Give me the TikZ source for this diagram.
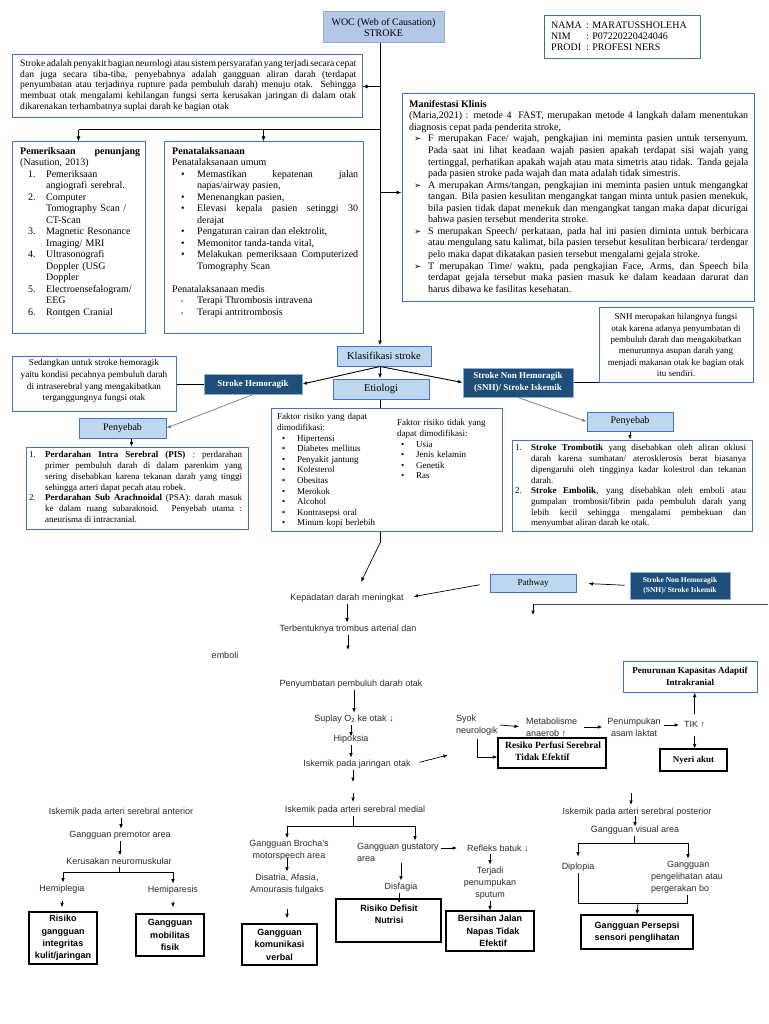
\documentclass[tikz,border=0pt]{standalone}
\usepackage{fontspec}
\setmainfont{Liberation Serif}[WordSpace={1,1.5,1.6}]
\setsansfont{Liberation Sans}
\newfontfamily\symfont{DejaVu Sans}
\usetikzlibrary{arrows.meta,fit,calc}
\definecolor{lblue}{HTML}{BDD7EE}
\definecolor{wocfill}{HTML}{B4C7E7}
\definecolor{wocbord}{HTML}{8FAADC}
\definecolor{bord}{HTML}{4472C4}
\definecolor{dblue}{HTML}{1F4E79}
\definecolor{nbord}{HTML}{41719C}
\definecolor{ptxt}{HTML}{2B2B2B}
\newcommand{\hitem}[3]{\hangindent=#1\hangafter=0\noindent\llap{\makebox[#1][l]{#2}}#3\par}
\newcommand{\arrb}{{\symfont\fontsize{8.5}{8.5}\selectfont ➢}}
\newcommand{\fillsp}{\hskip 0pt plus 1fill\relax}
\tikzset{
  bx/.style={draw=bord, line width=1pt, inner sep=0pt},
  lbx/.style={draw=bord, fill=lblue, line width=1pt, inner sep=0pt, align=center},
  dbx/.style={draw=bord!60!white, fill=dblue, text=white, line width=1pt, inner sep=0pt, align=center, font=\bfseries\fontsize{9}{12}\selectfont},
  kbx/.style={draw=black, line width=1.1pt, inner sep=0pt, align=center, font=\sffamily\bfseries\fontsize{9}{12.4}\selectfont},
  txt/.style={inner sep=0pt, anchor=north west, execute at begin node={\setlength{\parindent}{0pt}\hyphenpenalty=10000\relax}},
  ptx/.style={inner sep=2pt, text=ptxt, font=\sffamily\fontsize{9}{12}\selectfont},
  ar/.style={-{Latex[length=4.5pt,width=3.6pt]}, line width=0.7pt},
  tar/.style={-{Latex[length=5pt,width=4pt]}, line width=1pt},
  ln/.style={line width=1pt},
}
\begin{document}
\begin{tikzpicture}[x=1pt,y=-1pt]
\useasboundingbox (0,0) rectangle (768,1024);
\fill[white] (0,0) rectangle (768,1024);

% ---------------- header ----------------
\node[draw=wocbord, fill=wocfill, line width=1pt, minimum width=121pt, minimum height=31pt, inner sep=0pt, align=center, font=\fontsize{10}{11}\selectfont] (woc) at (383.5,27.5) {WOC (Web of Causation)\\STROKE};
\node[draw=nbord, line width=1pt, minimum width=156pt, minimum height=43pt, inner sep=0pt] (nm) at (622,37.5) {};
\node[txt, font=\fontsize{10}{11}\selectfont, align=left] (nmtxt) at (551,22) {\makebox[35pt][l]{NAMA}: MARATUSSHOLEHA\\\makebox[35pt][l]{NIM}: P07220220424046\\\makebox[35pt][l]{PRODI}: PROFESI NERS};

% definition
\node[bx, fit={(12,55) (362,118)}] (def) {};
\node[txt, text width=336pt, align=justify, font=\fontsize{9.6}{10.9}\selectfont] (deftxt) at (20,59.2) {Stroke adalah penyakit bagian neurologi atau sistem persyarafan yang terjadi secara cepat\linebreak
dan juga secara tiba-tiba, penyebabnya adalah gangguan aliran darah (terdapat\linebreak
penyumbatan atau terjadinya rupture pada pembuluh darah) menuju otak. Sehingga\linebreak
membuat otak mengalami kehilangan fungsi serta kerusakan jaringan di dalam otak\linebreak
dikarenakan terhambatnya suplai darah ke bagian otak};

% pemeriksaan
\node[bx, fit={(12,142) (145,333)}] (pem) {};
\node[txt, text width=120pt, align=left, font=\fontsize{10}{11.5}\selectfont] (pemtxt) at (20,147) {%
\textbf{Pemeriksaan}\fillsp\textbf{penunjang}\par
(Nasution, 2013)\par
\hitem{26pt}{\hspace{8pt}1.}{Pemeriksaan\newline angiografi serebral.}
\hitem{26pt}{\hspace{8pt}2.}{Computer\newline Tomography Scan /\newline CT-Scan}
\hitem{26pt}{\hspace{8pt}3.}{Magnetic Resonance\newline Imaging/ MRI}
\hitem{26pt}{\hspace{8pt}4.}{Ultrasonografi\newline Doppler (USG\newline Doppler}
\hitem{26pt}{\hspace{8pt}5.}{Electroensefalogram/\newline EEG}
\hitem{26pt}{\hspace{8pt}6.}{Rontgen Cranial}};

% penatalaksanaan
\node[bx, fit={(164,142) (363,333)}] (pen) {};
\node[txt, text width=186pt, align=justify, font=\fontsize{10}{11.5}\selectfont] (pentxt) at (172,147) {%
\textbf{Penatalaksanaan}\par
Penatalaksanaan umum\par
\hitem{25pt}{\hspace{9pt}\textbullet}{Memastikan kepatenan jalan\linebreak napas/airway pasien,}
\hitem{25pt}{\hspace{9pt}\textbullet}{Menenangkan pasien,}
\hitem{25pt}{\hspace{9pt}\textbullet}{Elevasi kepala pasien setinggi 30\linebreak derajat}
\hitem{25pt}{\hspace{9pt}\textbullet}{Pengaturan cairan dan elektrolit,}
\hitem{25pt}{\hspace{9pt}\textbullet}{Memonitor tanda-tanda vital,}
\hitem{25pt}{\hspace{9pt}\textbullet}{Melakukan pemeriksaan Computerized\linebreak Tomography Scan}
\vskip 11.5pt
\noindent Penatalaksanaan medis\par
\hitem{25pt}{\hspace{9pt}{\fontsize{6}{6}\selectfont\textbullet}}{Terapi Thrombosis intravena}
\hitem{25pt}{\hspace{9pt}{\fontsize{6}{6}\selectfont\textbullet}}{Terapi antritrombosis}};

% manifestasi
\node[bx, fit={(402,94) (754,301)}] (mk) {};
\node[txt, text width=339pt, align=justify, font=\fontsize{10}{11.56}\selectfont] (mktxt) at (409,100) {%
\textbf{Manifestasi Klinis}\par
(Maria,2021) : metode 4\ \ FAST, merupakan metode 4 langkah dalam menentukan\linebreak
diagnosis cepat pada penderita stroke,\par
\hitem{19pt}{\hspace{5pt}\arrb}{F merupakan Face/ wajah, pengkajian ini meminta pasien untuk tersenyum.\linebreak
Pada saat ini lihat keadaan wajah pasien apakah terdapat sisi wajah yang\linebreak
tertinggal, perhatikan apakah wajah atau mata simetris atau tidak. Tanda gejala\linebreak
pada pasien stroke pada wajah dan mata adalah tidak simestris.}
\hitem{19pt}{\hspace{5pt}\arrb}{A merupakan Arms/tangan, pengkajian ini meminta pasien untuk mengangkat\linebreak
tangan. Bila pasien kesulitan mengangkat tangan minta untuk pasien menekuk,\linebreak
bila pasien tidak dapat menekuk dan mengangkat tangan maka dapat dicurigai\linebreak
bahwa pasien tersebut menderita stroke.}
\hitem{19pt}{\hspace{5pt}\arrb}{S merupakan Speech/ perkataan, pada hal ini pasien diminta untuk berbicara\linebreak
atau mengulang satu kalimat, bila pasien tersebut kesulitan berbicara/ terdengar\linebreak
pelo maka dapat dikatakan pasien tersebut mengalami gejala stroke.}
\hitem{19pt}{\hspace{5pt}\arrb}{T merupakan Time/ waktu, pada pengkajian Face, Arms, dan Speech bila\linebreak
terdapat gejala tersebut maka pasien masuk ke dalam keadaan darurat dan\linebreak
harus dibawa ke fasilitas kesehatan.}};

% ---------------- klasifikasi ----------------
\node[lbx, minimum width=94pt, minimum height=20pt, font=\fontsize{10.5}{12}\selectfont] (klas) at (384,356) {Klasifikasi stroke};
\node[lbx, minimum width=96pt, minimum height=20pt, font=\fontsize{10.5}{12}\selectfont] (etio) at (381,389) {Etiologi};
\node[dbx, minimum width=98pt, minimum height=20pt] (hem) at (253,384) {Stroke Hemoragik};
\node[dbx, minimum width=110pt, minimum height=29pt] (snh) at (518,382.5) {Stroke Non Hemoragik\\(SNH)/ Stroke Iskemik};

\node[bx, fit={(12,356) (176,411)}] (hemd) {};
\node[inner sep=0pt, align=center, font=\fontsize{9.2}{11.7}\selectfont] (hemdtxt) at (94,381) {Sedangkan untuk stroke hemoragik\\yaitu kondisi pecahnya pembuluh darah\\di intraserebral yang mengakibatkan\\terganggungnya fungsi otak};

\node[bx, fit={(599,307) (753,382)}] (snhd) {};
\node[inner sep=0pt, align=center, font=\fontsize{9}{11.4}\selectfont] (snhdtxt) at (676,345) {SNH merupakan hilangnya fungsi\\otak karena adanya penyumbatan di\\pembuluh darah dan mengakibatkan\\menurunnya asupan darah yang\\menjadi makanan otak ke bagian otak\\itu sendiri.};

\node[lbx, minimum width=87pt, minimum height=20pt, font=\fontsize{10}{12}\selectfont] (pyl) at (122.5,428) {Penyebab};
\node[lbx, minimum width=86pt, minimum height=19pt, font=\fontsize{10}{12}\selectfont] (pyr) at (630,421.5) {Penyebab};

\node[bx, fit={(26,447) (248,529)}] (pylbox) {};
\node[txt, text width=213pt, align=justify, font=\fontsize{9}{10.7}\selectfont] (pyltxt) at (29,451.5) {%
\hitem{16pt}{1.}{\textbf{Perdarahan Intra Serebral (PIS)} : perdarahan\linebreak primer pembuluh darah di dalam parenkim yang\linebreak sering disebabkan karena tekanan darah yang tinggi\linebreak sehingga arteri dapat pecah atau robek.}
\hitem{16pt}{2.}{\textbf{Perdarahan Sub Arachnoidal} (PSA): darah masuk\linebreak ke dalam ruang subaraknoid. Penyebab utama :\linebreak aneurisma di intracranial.}};

\node[bx, fit={(271,408) (502,531)}] (etiobox) {};
\node[txt, text width=115pt, align=left, font=\fontsize{9}{10.6}\selectfont] (etl) at (277,413.5) {%
Faktor risiko yang dapat\\dimodifikasi:\par
\hitem{20pt}{\hspace{5pt}\textbullet}{Hipertensi}
\hitem{20pt}{\hspace{5pt}\textbullet}{Diabetes mellitus}
\hitem{20pt}{\hspace{5pt}\textbullet}{Penyakit jantung}
\hitem{20pt}{\hspace{5pt}\textbullet}{Kolesterol}
\hitem{20pt}{\hspace{5pt}\textbullet}{Obesitas}
\hitem{20pt}{\hspace{5pt}\textbullet}{Merokok}
\hitem{20pt}{\hspace{5pt}\textbullet}{Alcohol}
\hitem{20pt}{\hspace{5pt}\textbullet}{Kontrasepsi oral}
\hitem{20pt}{\hspace{5pt}\textbullet}{Minum kopi berlebih}};
\node[txt, text width=100pt, align=left, font=\fontsize{9}{10.6}\selectfont] (etr) at (397,419.5) {%
Faktor risiko tidak yang\\dapat dimodifikasi:\par
\hitem{19pt}{\hspace{4pt}\textbullet}{Usia}
\hitem{19pt}{\hspace{4pt}\textbullet}{Jenis kelamin}
\hitem{19pt}{\hspace{4pt}\textbullet}{Genetik}
\hitem{19pt}{\hspace{4pt}\textbullet}{Ras}};

\node[bx, fit={(512,440) (752,531)}] (pyrbox) {};
\node[txt, text width=231pt, align=justify, font=\fontsize{9}{10.7}\selectfont] (pyrtxt) at (515,444.5) {%
\hitem{16pt}{1.}{\textbf{Stroke Trombotik} yang disebabkan oleh aliran oklusi\linebreak darah karena sumbatan/ aterosklerosis berat biasanya\linebreak dipengaruhi oleh tingginya kadar kolestrol dan tekanan\linebreak darah.}
\hitem{16pt}{2.}{\textbf{Stroke Embolik}, yang disebabkan oleh emboli atau\linebreak gumpalan trombosit/fibrin pada pembuluh darah yang\linebreak lebih kecil sehingga mengalami pembekuan dan\linebreak menyumbat aliran darah ke otak.}};

% ---------------- pathway ----------------
\node[lbx, minimum width=86pt, minimum height=18pt, font=\fontsize{9}{11}\selectfont] (pw) at (533,583) {Pathway};
\node[dbx, minimum width=100pt, minimum height=27pt, font=\bfseries\fontsize{7.5}{10}\selectfont] (snh2) at (680,585.5) {Stroke Non Hemoragik\\(SNH)/ Stroke Iskemik};

\node[ptx] (kep) at (347,598) {Kepadatan darah meningkat};
\node[ptx] (ter) at (348,629) {Terbentuknya trombus arterial dan};
\node[ptx] (emb) at (225,655) {emboli};
\node[ptx] (peny) at (351,684) {Penyumbatan pembuluh darah otak};
\node[ptx] (sup) at (354,719) {Suplay O\textsubscript{2} ke otak ↓};
\node[ptx] (hip) at (351,739) {Hipoksia};
\node[ptx] (isk) at (357,764) {Iskemik pada jaringan otak};

\node[ptx, align=left, anchor=west] (syok) at (454,725) {Syok\\neurologik};
\node[ptx, align=left, anchor=west] (met) at (524,727) {Metabolisme\\anaerob ↑};
\node[ptx, align=center] (pen2) at (634,727) {Penumpukan\\asam laktat};
\node[ptx, anchor=west] (tik) at (682,725) {TIK ↑};

\node[draw=bord, line width=1pt, minimum width=134pt, minimum height=31pt, inner sep=0pt, align=center, font=\bfseries\fontsize{9}{11.5}\selectfont] (pk) at (690,676.5) {Penurunan Kapasitas Adaptif\\Intrakranial};
\node[kbx, minimum width=67pt, minimum height=22pt, font=\bfseries\fontsize{9}{11}\selectfont] (ny) at (693.5,760) {Nyeri akut};
\node[kbx, minimum width=108pt, minimum height=30pt] (rp) at (552,753) {};
\node[txt, font=\bfseries\fontsize{9.5}{12}\selectfont, align=left] (rptxt) at (505,741.5) {Resiko Perfusi Serebral\\\hspace*{10pt}Tidak Efektif};

% ---------------- anterior ----------------
\node[ptx] (ant) at (121,812) {Iskemik pada arteri serebral anterior};
\node[ptx] (gpa) at (120,835) {Gangguan premotor area};
\node[ptx] (kn) at (119,861) {Kerusakan neuromuskular};
\node[ptx] (hpl) at (62,889) {Hemiplegia};
\node[ptx] (hps) at (173,890) {Hemiparesis};
\node[kbx, minimum width=68pt, minimum height=52pt] (rg) at (63,938) {Risiko\\gangguan\\integritas\\kulit/jaringan};
\node[kbx, minimum width=68pt, minimum height=42pt] (mob) at (170,935) {Gangguan\\mobilitas\\fisik};

% ---------------- medial ----------------
\node[ptx] (med) at (355,810) {Iskemik pada arteri serebral medial};
\node[ptx, align=center] (bro) at (289,850.5) {Gangguan Brocha's\\motorspeech area};
\node[ptx, align=center] (dis) at (287,884) {Disatria, Afasia,\\Amourasis fulgaks};
\node[kbx, minimum width=75pt, minimum height=41pt] (kom) at (279.5,944.5) {Gangguan\\komunikasi\\verbal};
\node[ptx, align=left, anchor=west] (gus) at (355,852) {Gangguan gustatory\\area};
\node[ptx, anchor=west] (rb) at (465,848) {Refleks batuk ↓};
\node[ptx] (disf) at (401,887) {Disfagia};
\node[kbx, minimum width=105pt, minimum height=43pt] (dn) at (388.5,920.5) {};
\node[inner sep=0pt, align=center, font=\sffamily\bfseries\fontsize{9}{12}\selectfont] (dntxt) at (389,914) {Risiko Defisit\\Nutrisi};
\node[ptx, align=center] (sp) at (490,883) {Terjadi\\penumpukan\\sputum};
\node[kbx, minimum width=88pt, minimum height=40pt] (bj) at (490,931) {Bersihan Jalan\\\hspace*{6pt}Napas Tidak\\\hspace*{6pt}Efektif};

% ---------------- posterior ----------------
\node[ptx] (pos) at (637,812) {Iskemik pada arteri serebral posterior};
\node[ptx] (gva) at (635,830) {Gangguan visual area};
\node[ptx] (dip) at (578,867) {Diplopia};
\node[ptx, align=left] (gp) at (687,877) {\hspace*{16pt}Gangguan\\pengelihatan atau\\pergerakan bo};
\node[kbx, minimum width=112pt, minimum height=34pt] (gps) at (637,932) {Gangguan Persepsi\\sensori penglihatan};

% ================= connectors =================
\coordinate (sx) at (380,0);
\coordinate (br) at (380,130);
\draw[ln] (woc.south -| sx) -- (br);
\draw[tar] (br) -- (klas.north -| sx);
\draw[tar] (sx |- def.east) -- (def.east);
\draw[ln] (br) -- (br -| pem.north);
\draw[tar] (br -| pem.north) -- (pem.north);
\draw[tar] (br -| pen.north) -- (pen.north);
\coordinate (mkin) at ([yshift=5pt]mk.west);
\draw[tar] (sx |- mkin) -- (mkin);

\draw[tar] (klas.south -| sx) -- (etio.north -| sx);
\draw[ar, line width=0.9pt] (klas.south -| sx) -- (hem.east);
\draw[ar, line width=0.9pt] (klas.south -| sx) -- (snh.west);
\draw[ln] (hemd.east |- hem.west) -- (hem.west);
\draw[ln] (snh.east) -- (snh.east -| snhd.west);
\draw[ar, draw=gray, fill=gray] (hem.south) -- (pyl.east);
\coordinate (pyla) at ([xshift=9pt]pyl.south);
\draw[ar] (pyla) -- (pyla |- pylbox.north);
\draw[ar, draw=gray, fill=gray] (snh.south) -- (pyr.west);
\draw[ar] (pyr.south) -- (pyr.south |- pyrbox.north);
\draw[ln] (etio.south -| sx) -- (etiobox.north -| sx);

\coordinate (e1) at (380,543);
\coordinate (e2) at (361,582);
\draw[line width=0.7pt] (etiobox.south -| sx) -- (e1);
\draw[ar] (e1) -- (e2);
\draw[ar, shorten <=10pt, shorten >=8pt] (pw.west) -- (kep.east);
\draw[ar, shorten <=5pt, shorten >=12pt] (snh2.west) -- (pw.east);
\coordinate (s1) at (768,604);
\coordinate (s2) at (533,604);
\coordinate (s3) at (533,615);
\draw[line width=0.7pt, black!70] (s1) -- (s2);
\draw[ar] (s2) -- (s3);

\draw[ar] (kep.south) -- (kep.south |- ter.north);
\coordinate (t2) at (348,650);
\draw[ar] (ter.south) -- (t2);
\draw[ar] (peny.south -| sup.north) -- (sup.north);
\draw[ar, shorten >=-4pt] (hip.north |- sup.south) -- (hip.north);
\draw[ar] (hip.south) -- (hip.south |- isk.north);
\coordinate (jd) at (353,782);
\draw[ar] (isk.south -| jd) -- (jd);
\coordinate (sk) at (448,755);
\draw[ar, shorten <=7pt] (isk.east) -- (sk);

\draw[ar, shorten >=5pt] (syok.east) -- (met.west);
\draw[ar, shorten <=5pt, shorten >=3pt] (met.east |- pen2.west) -- (pen2.west);
\draw[ar, shorten <=1pt, shorten >=3pt] (pen2.east |- tik.west) -- (tik.west);
\draw[ar, shorten <=6pt] (tik.north) -- (tik.north |- pk.south);
\draw[ar, shorten <=6pt] (tik.south) -- (tik.south |- ny.north);
\coordinate (sy1) at ([yshift=-4pt]rp.west);
\draw[ar, shorten <=2pt] (syok.south) |- (sy1);

% anterior
\draw[ar] (ant.south) -- (ant.south |- gpa.north);
\draw[ar] (gpa.south) -- (gpa.south |- kn.north);
\coordinate (a1) at (119,872);
\coordinate (a2) at (63,872);
\coordinate (a3) at (173,872);
\draw[line width=0.8pt] (kn.south) -- (a1);
\draw[line width=0.8pt] (a2) -- (a3);
\draw[ar] (a2) -- (a2 |- hpl.north);
\draw[ar] (a3) -- (a3 |- hps.north);
\draw[ar, shorten <=6pt, shorten >=4pt] (hpl.south) -- (hpl.south |- rg.north);
\draw[ar, shorten <=6pt, shorten >=6pt] (hps.south) -- (hps.south |- mob.north);

% medial
\coordinate (ma1) at (353,793);
\coordinate (ma2) at (353,802);
\draw[ar] (ma1) -- (ma2);
\coordinate (m1) at (353,826);
\coordinate (m2) at (287,826);
\coordinate (m3) at (415,826);
\draw[line width=0.8pt] (med.south -| m1) -- (m1);
\draw[line width=0.8pt] (m2) -- (m3);
\draw[ar] (m2) -- (m2 |- bro.north);
\draw[ar] (m3) -- (m3 |- gus.north);
\draw[ar, shorten <=-5pt] (bro.south -| m2) -- (m2 |- dis.north);
\draw[ar, shorten <=13pt, shorten >=5pt] (dis.south) -- (dis.south |- kom.north);
\draw[ar, shorten >=8pt] (rb.west -| gus.east) -- (rb.west);
\draw[ar] (disf.north |- gus.south) -- (disf.north);
\coordinate (df) at (399,903);
\draw[ar] (disf.south -| df) -- (df);
\draw[ar] (sp.north |- rb.south) -- (sp.north);
\draw[ar] (sp.south) -- (sp.south |- bj.north);

% posterior
\coordinate (pa1) at (631,793);
\coordinate (pa2) at (631,805);
\draw[ar] (pa1) -- (pa2);
\draw[ar, shorten <=-2pt, shorten >=-3pt] (gva.north |- pos.south) -- (gva.north);
\coordinate (p1) at (634,843);
\coordinate (p2) at (578,843);
\coordinate (p3) at (688,843);
\draw[line width=0.8pt] (gva.south -| p1) -- (p1);
\draw[line width=0.8pt] (p2) -- (p3);
\draw[ar, shorten >=4pt] (p2) -- (p2 |- dip.north);
\draw[ar] (p3) -- (p3 |- gp.north);
\coordinate (pj) at (638,903);
\draw[line width=0.9pt] (dip.south) -- (dip.south |- pj) -- (gp.south |- pj) -- (gp.south);
\draw[ar] (pj) -- (gps.north);
\end{tikzpicture}
\end{document}
